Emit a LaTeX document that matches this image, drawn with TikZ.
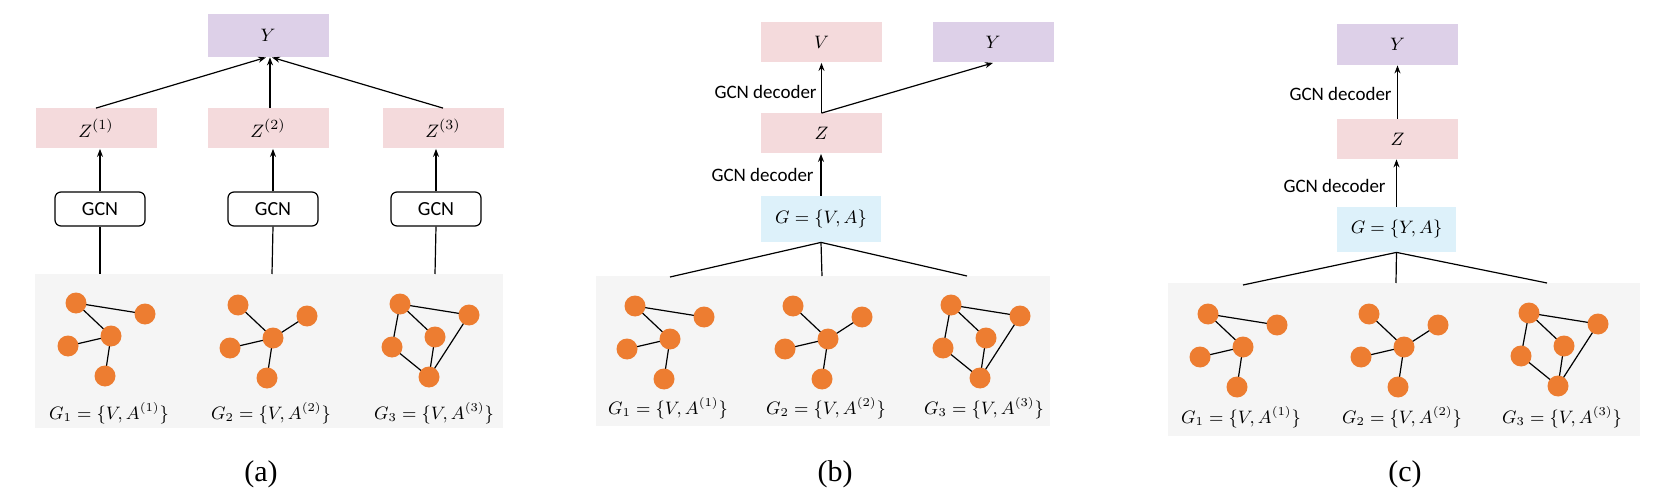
\documentclass[tikz,border=0pt]{standalone}
\usepackage{fontspec}
\setmainfont{Liberation Serif}
\newfontfamily\calib{Carlito}
\usetikzlibrary{arrows.meta}
\definecolor{cpurple}{HTML}{DDD0E8}
\definecolor{cpink}{HTML}{F4DADC}
\definecolor{cblue}{HTML}{DDF1FA}
\definecolor{cgray}{HTML}{F5F5F5}
\definecolor{corange}{HTML}{ED7D31}
\tikzset{
  ln/.style={line width=0.6pt},
  arr/.style={ln,-{Stealth[length=4pt,width=3pt]}},
  box/.style={inner sep=0pt,font=\fontsize{9.5}{11}\selectfont},
  pbox/.style={box,fill=cpink,minimum width=60.5pt,minimum height=20pt},
  ubox/.style={box,fill=cpurple,minimum width=60.5pt,minimum height=20pt},
  bbox/.style={box,fill=cblue,minimum width=60pt,minimum height=23pt},
  gcn/.style={draw,ln,rounded corners=3pt,minimum width=45pt,minimum height=17pt,inner sep=0pt,font=\calib\fontsize{10}{12}\selectfont},
  dec/.style={anchor=east,inner sep=1pt,font=\calib\fontsize{9.5}{11}\selectfont},
  gn/.style={circle,fill=corange,minimum size=10.5pt,inner sep=0pt},
  glab/.style={font=\fontsize{9}{11}\selectfont},
  captxt/.style={font=\fontsize{15}{17}\selectfont},
  panel/.style={fill=cgray,draw=none}
}
% #1 name prefix, #2 x, #3 y, #4 type (1,2,3)
\newcommand\mygraph[4]{%
  \coordinate (#1a) at (#2,#3);
  \coordinate (#1b) at (#2+69,#3+11);
  \coordinate (#1c) at (#2+35,#3+33);
  \coordinate (#1d) at (#2-8,#3+43);
  \coordinate (#1e) at (#2+29,#3+73);
  \ifcase#4\or
    \draw[ln] (#1a)--(#1b) (#1a)--(#1c) (#1c)--(#1d) (#1c)--(#1e);
  \or
    \draw[ln] (#1a)--(#1c) (#1b)--(#1c) (#1d)--(#1c) (#1c)--(#1e);
  \or
    \draw[ln] (#1a)--(#1b) (#1a)--(#1c) (#1a)--(#1d) (#1d)--(#1e) (#1c)--(#1e) (#1b)--(#1e);
  \fi
  \node[gn] (#1A) at (#1a) {};\node[gn] (#1B) at (#1b) {};\node[gn] (#1C) at (#1c) {};\node[gn] (#1D) at (#1d) {};\node[gn] (#1E) at (#1e) {};
}
\begin{document}
\begin{tikzpicture}[x=0.5pt,y=-0.5pt]
\useasboundingbox (0,0) rectangle (1662,492);
% ---------- panel (a)
\fill[panel] (35,274) rectangle (503,428);
\mygraph{a1}{76}{303}{1}
\mygraph{a2}{238}{305}{2}
\mygraph{a3}{400}{304}{3}
\node[glab] (la1) at (109,413) {$G_1=\{V,A^{(1)}\}$};
\node[glab] (la2) at (271,413) {$G_2=\{V,A^{(2)}\}$};
\node[glab] (la3) at (434,413) {$G_3=\{V,A^{(3)}\}$};
\node[ubox,minimum height=21.5pt] (aY) at (268,35.5) {$Y$};
\node[pbox] (aZ1) at (96,128.5) {$Z^{(1)}$};
\node[pbox] (aZ2) at (268,128.5) {$Z^{(2)}$};
\node[pbox] (aZ3) at (443,128.5) {$Z^{(3)}$};
\node[gcn] (aG1) at (100,209) {GCN};
\node[gcn] (aG2) at (273,209) {GCN};
\node[gcn] (aG3) at (436,209) {GCN};
\coordinate (at1) at (100,274);
\coordinate (at2) at (272,274);
\coordinate (at3) at (435,274);
\draw[ln] (at1)--(aG1.south); \draw[ln] (at2)--(aG2.south); \draw[ln] (at3)--(aG3.south);
\draw[arr] (aG1.north)--(aG1.north|-aZ1.south);
\draw[arr] (aG2.north)--(aG2.north|-aZ2.south);
\draw[arr] (aG3.north)--(aG3.north|-aZ3.south);
\draw[arr] (aZ1.north)--([xshift=-1pt]aY.south);
\draw[arr] ([xshift=1pt]aZ2.north)--([xshift=1pt]aY.south);
\draw[arr] (aZ3.north)--([xshift=2pt]aY.south);
\node[captxt] (ca) at (261,474) {(a)};
% ---------- panel (b)
\fill[panel] (596,276) rectangle (1050,426);
\mygraph{b1}{635}{306}{1}
\mygraph{b2}{793}{306}{2}
\mygraph{b3}{951}{305}{3}
\node[glab] (lb1) at (668,408) {$G_1=\{V,A^{(1)}\}$};
\node[glab] (lb2) at (826,408) {$G_2=\{V,A^{(2)}\}$};
\node[glab] (lb3) at (984,408) {$G_3=\{V,A^{(3)}\}$};
\node[pbox] (bV) at (821.5,42.5) {$V$};
\node[ubox] (bY) at (993,42.5) {$Y$};
\node[pbox] (bZ) at (821.5,133.5) {$Z$};
\node[bbox] (bG) at (821,219) {$G=\{V,A\}$};
\draw[arr] (bG.north)--(bG.north|-bZ.south);
\draw[arr] (bZ.north)--(bZ.north|-bV.south);
\draw[arr] (bZ.north)--(bY.south);
\node[dec] (bd1) at (819,92) {GCN decoder};
\node[dec] (bd2) at (816,175) {GCN decoder};
\coordinate (bt1) at (670,277);
\coordinate (bt2) at (822,276);
\coordinate (bt3) at (967,276);
\draw[ln] (bt1)--(bG.south)--(bt3); \draw[ln] (bt2)--(bG.south);
\node[captxt] (cb) at (835,474) {(b)};
% ---------- panel (c)
\fill[panel] (1168,283) rectangle (1640,436);
\mygraph{c1}{1208}{314}{1}
\mygraph{c2}{1369}{314}{2}
\mygraph{c3}{1529}{313}{3}
\node[glab] (lc1) at (1241,417) {$G_1=\{V,A^{(1)}\}$};
\node[glab] (lc2) at (1402,417) {$G_2=\{V,A^{(2)}\}$};
\node[glab] (lc3) at (1562,417) {$G_3=\{V,A^{(3)}\}$};
\node[ubox,minimum height=20.5pt] (cY) at (1397.5,44.5) {$Y$};
\node[pbox] (cZ) at (1397.5,139) {$Z$};
\node[bbox,minimum width=59.5pt,minimum height=22.5pt] (cG) at (1396.5,229.5) {$G=\{Y,A\}$};
\draw[arr] (cG.north)--(cG.north|-cZ.south);
\draw[arr] (cZ.north)--(cZ.north|-cY.south);
\node[dec] (cd1) at (1394,94) {GCN decoder};
\node[dec] (cd2) at (1388,186) {GCN decoder};
\coordinate (ct1) at (1243,285);
\coordinate (ct2) at (1396,283);
\coordinate (ct3) at (1547,283);
\draw[ln] (ct1)--(cG.south)--(ct3); \draw[ln] (ct2)--(cG.south);
\node[captxt] (cc) at (1405,474) {(c)};
\end{tikzpicture}
\end{document}
